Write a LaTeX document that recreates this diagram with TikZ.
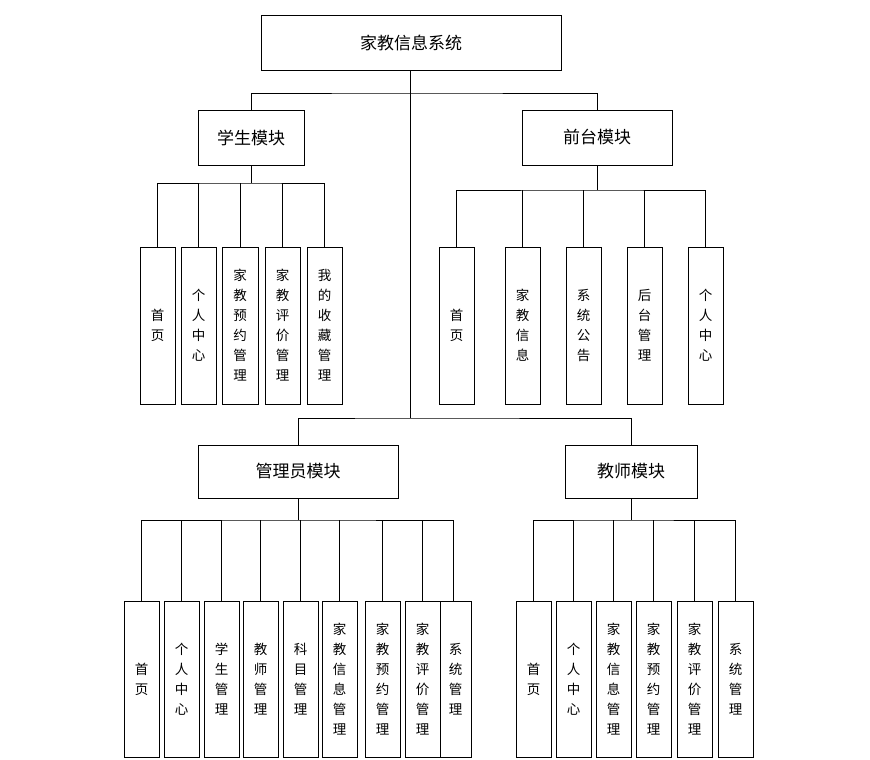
\documentclass[tikz,border=0pt]{standalone}
\usepackage{fontspec}
\setmainfont{Noto Sans CJK SC}
\begin{document}
\begin{tikzpicture}[x=1pt,y=-1pt,
  box/.style={draw,line width=0.8pt,inner sep=0pt,font=\fontsize{17}{20}\selectfont},
  leaf/.style={draw,line width=0.8pt,inner sep=0pt,align=center,font=\fontsize{13.5}{20}\selectfont},
  ln/.style={line width=0.8pt}]
\useasboundingbox (0,0) rectangle (870,760);
\newcommand\bx[6]{\node[box,minimum width=#4-#2,minimum height=#5-#3] (#1) at ({(#2+#4)/2},{(#3+#5)/2}) {#6};}
\newcommand\lf[6]{\node[leaf,minimum width=#3-#2,minimum height=#5-#4] (#1) at ({(#2+#3)/2},{(#4+#5)/2}) {#6};}
\bx{root}{261}{15}{561}{70}{家教信息系统}
\bx{stu}{198}{110}{304}{165}{学生模块}
\bx{fr}{522}{110}{672}{165}{前台模块}
\bx{adm}{198}{445}{398}{498}{管理员模块}
\bx{tea}{565}{445}{697}{498}{教师模块}
% student leaves
\lf{s1}{140}{175}{247}{404}{首\\页}
\lf{s2}{181}{216}{247}{404}{个\\人\\中\\心}
\lf{s3}{222}{258}{247}{404}{家\\教\\预\\约\\管\\理}
\lf{s4}{265}{300}{247}{404}{家\\教\\评\\价\\管\\理}
\lf{s5}{307}{342}{247}{404}{我\\的\\收\\藏\\管\\理}
% front leaves
\lf{f1}{439}{474}{247}{404}{首\\页}
\lf{f2}{505}{540}{247}{404}{家\\教\\信\\息}
\lf{f3}{566}{601}{247}{404}{系\\统\\公\\告}
\lf{f4}{627}{662}{247}{404}{后\\台\\管\\理}
\lf{f5}{688}{723}{247}{404}{个\\人\\中\\心}
% admin leaves
\lf{a1}{124}{159}{601}{757}{首\\页}
\lf{a2}{164}{199}{601}{757}{个\\人\\中\\心}
\lf{a3}{204}{239}{601}{757}{学\\生\\管\\理}
\lf{a4}{243}{278}{601}{757}{教\\师\\管\\理}
\lf{a5}{283}{318}{601}{757}{科\\目\\管\\理}
\lf{a6}{322}{357}{601}{757}{家\\教\\信\\息\\管\\理}
\lf{a7}{365}{400}{601}{757}{家\\教\\预\\约\\管\\理}
\lf{a8}{405}{440}{601}{757}{家\\教\\评\\价\\管\\理}
\lf{a9}{440}{471}{601}{757}{系\\统\\管\\理}
% teacher leaves
\lf{t1}{516}{551}{601}{757}{首\\页}
\lf{t2}{556}{591}{601}{757}{个\\人\\中\\心}
\lf{t3}{596}{631}{601}{757}{家\\教\\信\\息\\管\\理}
\lf{t4}{636}{671}{601}{757}{家\\教\\预\\约\\管\\理}
\lf{t5}{677}{712}{601}{757}{家\\教\\评\\价\\管\\理}
\lf{t6}{718}{753}{601}{757}{系\\统\\管\\理}
% root connectors
\coordinate (r1) at (410,93);
\coordinate (r2) at (410,418);
\draw[ln] (root.south -| r1) -- (r2);
\draw[ln] (stu.north) |- (r1) -| (fr.north);
\draw[ln] (adm.north) |- (r2) -| (tea.north);
% student
\draw[ln] (stu.south) -- ++(0,18);
\draw[ln] (s1.north) |- (s3.north |- 0,183) -| (s5.north);
\foreach \n in {s2,s3,s4} \draw[ln] (\n.north) -- (\n.north |- 0,183);
% front
\draw[ln] (fr.south) -- ++(0,25);
\draw[ln] (f1.north) |- (f3.north |- 0,190) -| (f5.north);
\foreach \n in {f2,f3,f4} \draw[ln] (\n.north) -- (\n.north |- 0,190);
% admin
\draw[ln] (adm.south) -- ++(0,22);
\draw[ln] (a1.north) |- (a5.north |- 0,520) -| ([xshift=-2pt]a9.north);
\foreach \n in {a2,a3,a4,a5,a6,a7,a8} \draw[ln] (\n.north) -- (\n.north |- 0,520);
% teacher
\draw[ln] (tea.south) -- ++(0,22);
\draw[ln] (t1.north) |- (t3.north |- 0,520) -| (t6.north);
\foreach \n in {t2,t3,t4,t5} \draw[ln] (\n.north) -- (\n.north |- 0,520);
\end{tikzpicture}
\end{document}
